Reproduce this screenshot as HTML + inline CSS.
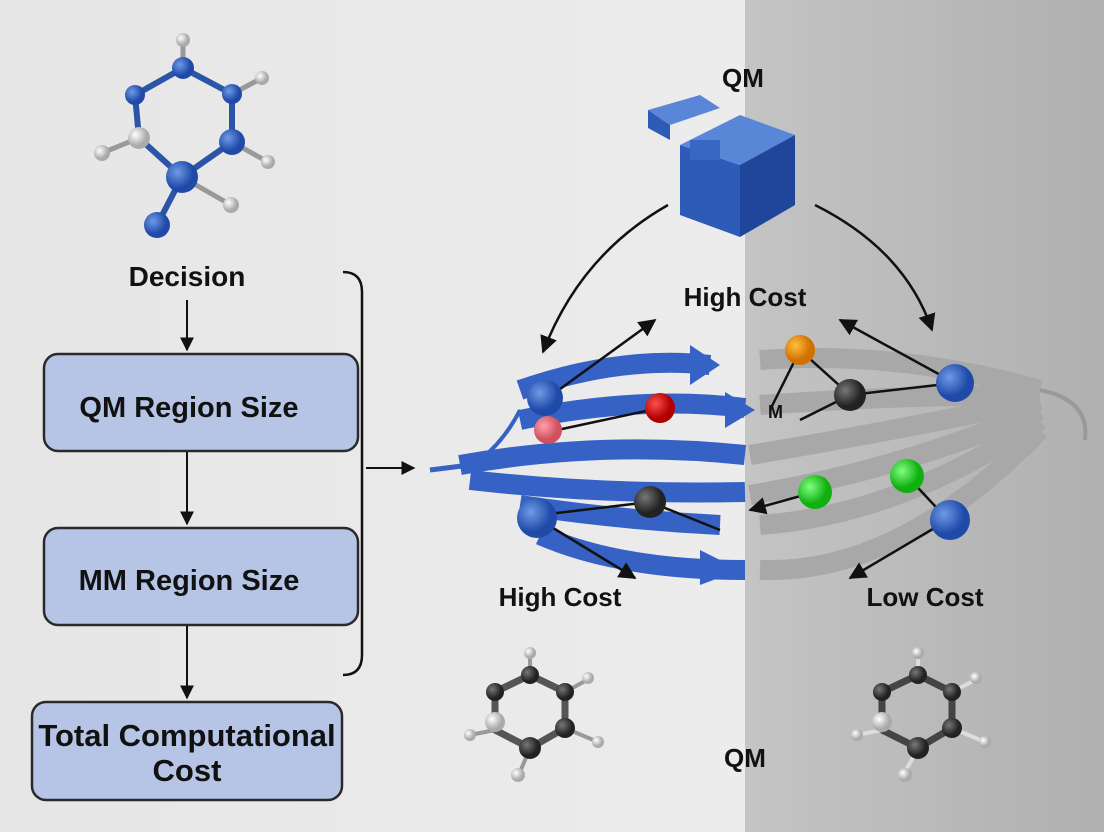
<!DOCTYPE html>
<html><head><meta charset="utf-8"><style>
body{margin:0;width:1104px;height:832px;overflow:hidden;font-family:"Liberation Sans",sans-serif}
</style></head><body>
<svg width="1104" height="832" viewBox="0 0 1104 832" xmlns="http://www.w3.org/2000/svg">
<defs>
<linearGradient id="bgL" x1="0" x2="1"><stop offset="0" stop-color="#e6e6e6"/><stop offset="1" stop-color="#ececec"/></linearGradient>
<linearGradient id="bgR" x1="0" x2="1"><stop offset="0" stop-color="#c4c4c4"/><stop offset="1" stop-color="#b0b0b0"/></linearGradient>
<radialGradient id="gb" cx="0.35" cy="0.35"><stop offset="0" stop-color="#6f9ae6"/><stop offset="1" stop-color="#1f4aa8"/></radialGradient>
<radialGradient id="gk" cx="0.35" cy="0.35"><stop offset="0" stop-color="#777"/><stop offset="1" stop-color="#222"/></radialGradient>
<radialGradient id="gw" cx="0.35" cy="0.35"><stop offset="0" stop-color="#fff"/><stop offset="1" stop-color="#aaa"/></radialGradient>
<radialGradient id="gr" cx="0.35" cy="0.35"><stop offset="0" stop-color="#ff5050"/><stop offset="1" stop-color="#b00000"/></radialGradient>
<radialGradient id="gp" cx="0.35" cy="0.35"><stop offset="0" stop-color="#ffa0a8"/><stop offset="1" stop-color="#d05060"/></radialGradient>
<radialGradient id="gg" cx="0.35" cy="0.35"><stop offset="0" stop-color="#80ff80"/><stop offset="1" stop-color="#10b010"/></radialGradient>
<radialGradient id="go" cx="0.35" cy="0.35"><stop offset="0" stop-color="#ffc040"/><stop offset="1" stop-color="#d07000"/></radialGradient>
<marker id="ah" viewBox="0 0 10 10" refX="9" refY="5" markerWidth="7" markerHeight="7" orient="auto"><path d="M0,0 L10,5 L0,10 z" fill="#111"/></marker>
</defs>
<rect width="745" height="832" fill="url(#bgL)"/>
<rect x="745" width="359" height="832" fill="url(#bgR)"/>

<g stroke="#2c55a8" stroke-width="6">
<line x1="183" y1="68" x2="135" y2="95"/><line x1="183" y1="68" x2="232" y2="94"/>
<line x1="135" y1="95" x2="139" y2="138"/><line x1="232" y1="94" x2="232" y2="142"/>
<line x1="139" y1="138" x2="182" y2="177"/><line x1="232" y1="142" x2="182" y2="177"/>
<line x1="182" y1="177" x2="157" y2="225"/>
</g>
<g stroke="#999" stroke-width="5">
<line x1="183" y1="68" x2="183" y2="40"/><line x1="232" y1="94" x2="262" y2="78"/>
<line x1="139" y1="138" x2="102" y2="153"/><line x1="232" y1="142" x2="268" y2="162"/>
<line x1="182" y1="177" x2="231" y2="205"/>
</g>
<circle cx="183" cy="68" r="11" fill="url(#gb)"/><circle cx="135" cy="95" r="10" fill="url(#gb)"/>
<circle cx="232" cy="94" r="10" fill="url(#gb)"/><circle cx="232" cy="142" r="13" fill="url(#gb)"/>
<circle cx="182" cy="177" r="16" fill="url(#gb)"/><circle cx="157" cy="225" r="13" fill="url(#gb)"/>
<circle cx="139" cy="138" r="11" fill="url(#gw)"/>
<circle cx="183" cy="40" r="7" fill="url(#gw)"/><circle cx="262" cy="78" r="7" fill="url(#gw)"/>
<circle cx="102" cy="153" r="8" fill="url(#gw)"/><circle cx="268" cy="162" r="7" fill="url(#gw)"/>
<circle cx="231" cy="205" r="8" fill="url(#gw)"/>

<text x="187" y="286" font-size="28" font-weight="bold" fill="#111" text-anchor="middle">Decision</text>
<g stroke="#111" stroke-width="2" marker-end="url(#ah)">
<line x1="187" y1="300" x2="187" y2="350"/>
<line x1="187" y1="452" x2="187" y2="524"/>
<line x1="187" y1="626" x2="187" y2="698"/>
<line x1="366" y1="468" x2="414" y2="468"/>
</g>
<g fill="#b6c4e6" stroke="#2a2a2a" stroke-width="2.5">
<rect x="44" y="354" width="314" height="97" rx="14"/>
<rect x="44" y="528" width="314" height="97" rx="14"/>
<rect x="32" y="702" width="310" height="98" rx="14"/>
</g>
<g font-weight="bold" fill="#111" text-anchor="middle">
<text x="189" y="417" font-size="29">QM Region Size</text>
<text x="189" y="590" font-size="29">MM Region Size</text>
<text x="187" y="746" font-size="31">Total Computational</text>
<text x="187" y="781" font-size="31">Cost</text>
</g>
<path d="M343,272 Q362,272 362,292 L362,655 Q362,675 343,675" fill="none" stroke="#111" stroke-width="2.5"/>

<text x="743" y="87" font-size="26" font-weight="bold" text-anchor="middle" fill="#111">QM</text>
<polygon points="680,145 740,115 795,135 740,165" fill="#5a86d8"/>
<polygon points="680,145 740,165 740,237 680,215" fill="#2e5bb8"/>
<polygon points="740,165 795,135 795,205 740,237" fill="#1f469a"/>
<polygon points="648,110 700,95 720,108 670,125" fill="#5a86d8"/>
<polygon points="648,110 670,125 670,140 648,128" fill="#2e5bb8"/>
<rect x="690" y="140" width="30" height="20" fill="#3766c4"/>

<g fill="none" stroke="#111" stroke-width="2.5" marker-end="url(#ah)">
<path d="M668,205 Q580,255 543,352"/>
<path d="M815,205 Q905,250 932,330"/>
</g>

<g fill="none" stroke="#3562c4" stroke-width="20" stroke-linecap="butt">
<path d="M520,390 Q620,355 710,365"/>
<path d="M520,420 Q640,395 745,408"/>
<path d="M460,465 Q600,440 745,455"/>
<path d="M470,480 Q600,495 745,492"/>
<path d="M520,505 Q620,520 720,525"/>
<path d="M540,535 Q620,570 745,570"/>
</g>
<g fill="#3562c4">
<polygon points="690,345 720,365 690,385"/><polygon points="725,392 755,410 725,428"/>
<polygon points="700,550 740,570 700,585"/>
</g>
<path d="M430,470 L470,465" stroke="#3562c4" stroke-width="5"/>
<path d="M520,410 Q505,440 480,460" stroke="#3562c4" stroke-width="4" fill="none"/>
<g fill="none" stroke="#a8a8a8" stroke-width="20">
<path d="M760,360 Q900,350 1040,390"/>
<path d="M760,405 Q900,395 1040,395"/>
<path d="M750,455 Q900,430 1040,400"/>
<path d="M750,495 Q900,470 1040,410"/>
<path d="M760,525 Q900,515 1040,420"/>
<path d="M760,570 Q900,575 1040,430"/>
</g>
<path d="M1040,390 Q1090,400 1085,440" stroke="#999" stroke-width="4" fill="none"/>

<g stroke="#111" stroke-width="2.5">
<line x1="545" y1="400" x2="655" y2="320" marker-end="url(#ah)"/>
<line x1="548" y1="432" x2="660" y2="408"/>
<line x1="800" y1="350" x2="850" y2="395"/><line x1="800" y1="350" x2="770" y2="410"/>
<line x1="850" y1="395" x2="955" y2="383"/><line x1="850" y1="395" x2="800" y2="420"/>
<line x1="955" y1="383" x2="840" y2="320" marker-end="url(#ah)"/>
<line x1="650" y1="502" x2="540" y2="515"/><line x1="650" y1="502" x2="720" y2="530"/>
<line x1="540" y1="520" x2="635" y2="578" marker-end="url(#ah)"/>
<line x1="815" y1="492" x2="750" y2="510" marker-end="url(#ah)"/>
<line x1="907" y1="476" x2="948" y2="520"/>
<line x1="948" y1="520" x2="850" y2="578" marker-end="url(#ah)"/>
</g>
<circle cx="545" cy="398" r="18" fill="url(#gb)"/>
<circle cx="548" cy="430" r="14" fill="url(#gp)"/>
<circle cx="660" cy="408" r="15" fill="url(#gr)"/>
<circle cx="800" cy="350" r="15" fill="url(#go)"/>
<circle cx="850" cy="395" r="16" fill="url(#gk)"/>
<circle cx="955" cy="383" r="19" fill="url(#gb)"/>
<circle cx="650" cy="502" r="16" fill="url(#gk)"/>
<circle cx="537" cy="518" r="20" fill="url(#gb)"/>
<circle cx="815" cy="492" r="17" fill="url(#gg)"/>
<circle cx="907" cy="476" r="17" fill="url(#gg)"/>
<circle cx="950" cy="520" r="20" fill="url(#gb)"/>
<text x="768" y="418" font-size="18" font-weight="bold" fill="#111">M</text>

<g font-weight="bold" fill="#111" text-anchor="middle" font-size="26">
<text x="745" y="306">High Cost</text>
<text x="560" y="606">High Cost</text>
<text x="925" y="606">Low Cost</text>
<text x="745" y="767">QM</text>
</g>

<g stroke="#555" stroke-width="7">
<polygon points="530,675 565,692 565,728 530,748 495,730 495,692" fill="none"/>
</g>
<g stroke="#999" stroke-width="4">
<line x1="530" y1="675" x2="530" y2="655"/><line x1="565" y1="692" x2="587" y2="680"/>
<line x1="565" y1="728" x2="598" y2="742"/><line x1="530" y1="748" x2="520" y2="772"/>
<line x1="495" y1="730" x2="470" y2="735"/>
</g>
<g fill="url(#gk)"><circle cx="530" cy="675" r="9"/><circle cx="565" cy="692" r="9"/><circle cx="565" cy="728" r="10"/><circle cx="530" cy="748" r="11"/><circle cx="495" cy="692" r="9"/></g>
<circle cx="495" cy="722" r="10" fill="url(#gw)"/>
<g fill="url(#gw)"><circle cx="530" cy="653" r="6"/><circle cx="588" cy="678" r="6"/><circle cx="598" cy="742" r="6"/><circle cx="518" cy="775" r="7"/><circle cx="470" cy="735" r="6"/></g>
<g stroke="#444" stroke-width="7">
<polygon points="918,675 952,692 952,728 918,748 882,730 882,692" fill="none"/>
</g>
<g stroke="#ddd" stroke-width="4">
<line x1="918" y1="675" x2="918" y2="655"/><line x1="952" y1="692" x2="975" y2="680"/>
<line x1="952" y1="728" x2="985" y2="742"/><line x1="918" y1="748" x2="905" y2="772"/>
<line x1="882" y1="730" x2="857" y2="735"/>
</g>
<g fill="url(#gk)"><circle cx="918" cy="675" r="9"/><circle cx="952" cy="692" r="9"/><circle cx="952" cy="728" r="10"/><circle cx="918" cy="748" r="11"/><circle cx="882" cy="692" r="9"/></g>
<circle cx="882" cy="722" r="10" fill="url(#gw)"/>
<g fill="url(#gw)"><circle cx="918" cy="653" r="6"/><circle cx="976" cy="678" r="6"/><circle cx="985" cy="742" r="6"/><circle cx="905" cy="775" r="7"/><circle cx="857" cy="735" r="6"/></g>
</svg>
</body></html>
